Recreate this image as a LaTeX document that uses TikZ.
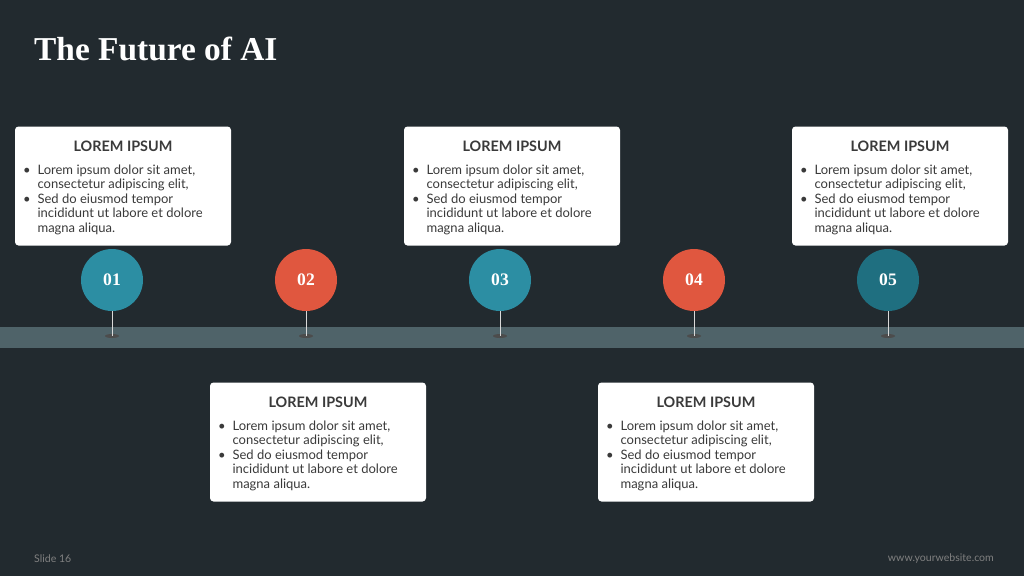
\documentclass[tikz,border=0pt]{standalone}
\usepackage{fontspec}
\setmainfont{Liberation Serif}
\setsansfont{Lato}
\usetikzlibrary{positioning}
\definecolor{bgdark}{HTML}{222A2F}
\definecolor{band}{HTML}{4F6369}
\definecolor{tealc}{HTML}{2C8EA3}
\definecolor{tealdk}{HTML}{1F6F80}
\definecolor{orangec}{HTML}{E0573F}
\definecolor{txtgrey}{HTML}{3A3A3A}
\newcommand{\bodytext}{%
\textbullet\hspace{4pt}Lorem ipsum dolor sit amet,\\
\phantom{\textbullet}\hspace{4pt}consectetur adipiscing elit,\\
\textbullet\hspace{4pt}Sed do eiusmod tempor\\
\phantom{\textbullet}\hspace{4pt}incididunt ut labore et dolore\\
\phantom{\textbullet}\hspace{4pt}magna aliqua.}
\begin{document}
\begin{tikzpicture}[x=0.02cm,y=-0.02cm,
  card/.style={fill=white,rounded corners=2pt,minimum width=216*0.02cm,minimum height=119*0.02cm,inner sep=0pt},
  cardhead/.style={font=\sffamily\bfseries\fontsize{8.2}{9}\selectfont,text=txtgrey},
  cardbody/.style={font=\sffamily\fontsize{7.4}{8.3}\selectfont,text=txtgrey,align=left,anchor=north west,inner sep=0pt},
  dot/.style={circle,minimum size=62*0.02cm,inner sep=0pt,text=white,font=\bfseries\fontsize{10}{12}\selectfont},
  pin/.style={draw=white!85!black,line width=0.5pt},
]
\fill[bgdark] (0,0) rectangle (1024,576);
\useasboundingbox (0,0) rectangle (1024,576);
\fill[band] (0,327) rectangle (1024,348);
\node[anchor=west,text=white,font=\bfseries\fontsize{19}{22}\selectfont] (title) at (28,49) {The Future of AI};
% circles on the timeline
\foreach \n/\x/\c in {1/112/tealc,2/306/orangec,3/500/tealc,4/694/orangec,5/888/tealdk}{
  \fill[black!70] (\x,336) ellipse (7 and 2);
  \coordinate (foot\n) at (\x,336);
  \node[dot,fill=\c] (dot\n) at (\x,280) {0\n};
  \draw[pin] (dot\n.south) -- (foot\n);
}
% cards
\foreach \n/\x/\y in {1/123/186,2/318/442,3/512/186,4/706/442,5/900/186}{
  \node[card] (card\n) at (\x,\y) {};
  \node[cardhead,below=9*0.02cm of card\n.north] (head\n) {LOREM IPSUM};
  \node[cardbody] (body\n) at ([xshift=8*0.02cm,yshift=-38*0.02cm]card\n.north west) {\bodytext};
}
\node[anchor=west,text=gray,font=\sffamily\fontsize{6}{7}\selectfont] (slide) at (28,559) {Slide 16};
\node[anchor=east,text=gray,font=\sffamily\fontsize{6}{7}\selectfont] (web) at (1000,559) {www.yourwebsite.com};
\end{tikzpicture}
\end{document}
